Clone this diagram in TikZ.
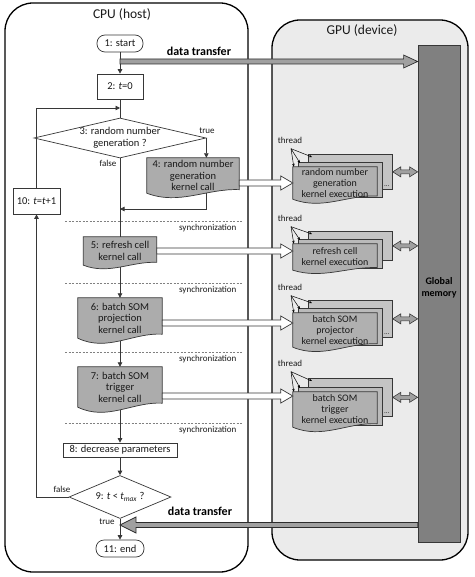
\documentclass[tikz,border=0pt]{standalone}
\usepackage{fontspec}
\setmainfont{Carlito}
\usetikzlibrary{shapes.geometric,arrows.meta,calc}
\pgfdeclarelayer{bg}
\pgfsetlayers{bg,main}
\newcommand\fsz[2]{\fontsize{#1}{#2}\selectfont}
\definecolor{edge}{RGB}{55,55,55}
\definecolor{kfill}{RGB}{172,172,172}
\definecolor{gpubg}{RGB}{235,235,235}
\definecolor{memfill}{RGB}{128,128,128}
\definecolor{gfront}{RGB}{176,176,176}
\definecolor{gmid}{RGB}{186,186,186}
\definecolor{gback}{RGB}{196,196,196}
\definecolor{dtfill}{RGB}{160,160,160}
\definecolor{txt}{RGB}{25,25,25}
% document shape behind a named node
\newcommand\docshape[2]{%
 \begin{pgfonlayer}{bg}
 \path[#2] let \p1=(#1.north west), \p2=(#1.south east) in
 (\x1,\y1) -- (\x2,\y1) -- (\x2,{\y2+0.1*(\y1-\y2)})
 .. controls ({\x1+0.65*(\x2-\x1)},{\y2+0.14*(\y1-\y2)}) and ({\x1+0.35*(\x2-\x1)},{\y2-0.35*(\y1-\y2)}) .. (\x1,\y2) -- cycle;
 \end{pgfonlayer}}
% fat horizontal arrow: style, from, to, body half, head half, head length (signed)
\newcommand\fatarrow[6]{%
 \path[#1] let \p1=#2, \p2=#3 in
 (\x1,{\y1+#4}) -- ({\x2-(#6)},{\y1+#4}) -- ({\x2-(#6)},{\y1+#5}) -- (\x2,\y1)
 -- ({\x2-(#6)},{\y1-#5}) -- ({\x2-(#6)},{\y1-#4}) -- (\x1,{\y1-#4}) -- cycle;}
% double headed fat arrow, left to right
\newcommand\dblarrow[6]{%
 \path[#1] let \p1=#2, \p2=#3 in
 (\x1,\y1) -- ({\x1+#6},{\y1+#5}) -- ({\x1+#6},{\y1+#4}) -- ({\x2-#6},{\y1+#4})
 -- ({\x2-#6},{\y1+#5}) -- (\x2,\y1) -- ({\x2-#6},{\y1-#5}) -- ({\x2-#6},{\y1-#4})
 -- ({\x1+#6},{\y1-#4}) -- ({\x1+#6},{\y1-#5}) -- cycle;}
\tikzset{
 every node/.style={text=txt},
 frame/.style={draw=black, line width=1.3pt, rounded corners=28pt},
 flowline/.style={draw=edge, line width=0.8pt},
 flow/.style={flowline, -{Triangle[length=4.5pt,width=4.5pt]}},
 procbox/.style={draw=edge, line width=0.7pt, fill=white, font=\fsz{10.5}{11.5}, inner sep=1pt, align=center},
 termbox/.style={procbox, rounded corners=8pt},
 decbox/.style={draw=edge, line width=0.7pt, fill=white, diamond, inner ysep=0pt, align=center, font=\fsz{10.5}{11.5}},
 kdoc/.style={inner sep=0pt, align=center, font=\fsz{10.5}{11.5}},
 kfillst/.style={draw=edge, line width=0.7pt, fill=kfill},
 gfrontst/.style={draw=edge, line width=0.7pt, fill=gfront},
 gdoc/.style={inner sep=0pt, align=center, font=\fsz{10}{11}, minimum width=84pt},
 gbox/.style={draw=edge, line width=0.7pt, inner sep=0pt, minimum width=84pt, anchor=north west},
 sync/.style={draw=gray, line width=0.7pt, dash pattern=on 2pt off 1.5pt},
 small/.style={font=\fsz{9}{10}},
 synclab/.style={small, anchor=east},
 whitearr/.style={draw=edge, line width=0.7pt, fill=white},
 dtarr/.style={draw=edge!80!black, line width=0.7pt, fill=dtfill},
 dblarr/.style={draw=edge, line width=0.6pt, fill=dtfill},
 thr/.style={draw=black, line width=0.5pt, -{Stealth[length=3pt,width=2.5pt]}},
 dotlab/.style={font=\fsz{7}{8}},
}
\begin{document}
\begin{tikzpicture}[x=1pt,y=-1pt]
\useasboundingbox (0,0) rectangle (474,577);
\begin{pgfonlayer}{bg}
\draw[frame, fill=white] (5,3) rectangle (248,572);
\draw[frame, fill=gpubg] (272,20) rectangle (468,560);
\end{pgfonlayer}

\node[font=\fsz{13.5}{15}] (cpu) at (122,15) {CPU (host)};
\node[font=\fsz{13.5}{15}] (gpu) at (362,31) {GPU (device)};

% global memory
\node[draw=edge, line width=0.8pt, fill=memfill, minimum width=42pt, minimum height=497pt, inner sep=0pt] (mem) at (439,293.5) {};
\node[font=\bfseries\fsz{10}{12}, text=black, align=center] (memlabel) at (439,288) {Global\\memory};

% CPU flowchart
\node[termbox, minimum width=46pt, minimum height=17pt] (n1) at (120,43.5) {1: start};
\node[procbox, minimum width=46pt, minimum height=25pt] (n2) at (120,86.5) {2: \textit{t}=0};
\node[decbox, inner xsep=-4pt, shape aspect=4.2, minimum width=172pt, minimum height=40pt] (n3) at (120,138) {3: random number\\generation ?};
\node[kdoc, minimum width=92pt, minimum height=35pt] (n4) at (193,175.5) {4: random number\\generation\\kernel call};
\docshape{n4}{kfillst}
\node[kdoc, minimum width=73pt, minimum height=28pt] (n5) at (120,251) {5: refresh cell\\kernel call};
\docshape{n5}{kfillst}
\node[kdoc, minimum width=84pt, minimum height=40pt] (n6) at (120,318) {6: batch SOM\\projection\\kernel call};
\docshape{n6}{kfillst}
\node[kdoc, minimum width=84pt, minimum height=40pt] (n7) at (120,387) {7: batch SOM\\trigger\\kernel call};
\docshape{n7}{kfillst}
\node[procbox, minimum width=114pt, minimum height=14pt] (n8) at (120,450) {8: decrease parameters};
\node[decbox, inner xsep=0pt, shape aspect=2.4, minimum width=102pt, minimum height=43pt] (n9) at (120,497) {9: \textit{t} < \textit{t}\textsubscript{\textit{max}} ?};
\node[procbox, minimum width=47pt, minimum height=26pt] (n10) at (36.5,201) {10: \textit{t}=\textit{t}+1};
\node[termbox, minimum width=48pt, minimum height=17pt] (n11) at (120,548.5) {11: end};

\coordinate (jl) at (120,108);
\coordinate (j4) at (120,209);
\draw[flow] (n1.south) -- (n2.north);
\draw[flowline] (n2.south) -- (n3.north);
\draw[flow] (n10.north) |- (jl);
\draw[flow] (n3.east) -- (n3.east |- n4.north);
\draw[flow] (n3.east |- n4.south) |- (j4);
\draw[flowline] (n3.south) -- (n5.north);
\draw[flow] ([yshift=-1.8pt]n5.south) -- (n6.north);
\draw[flow] ([yshift=-2.6pt]n6.south) -- (n7.north);
\draw[flow] ([yshift=-2.6pt]n7.south) -- (n8.north);
\draw[flow] (n8.south) -- (n9.north);
\draw[flow] (n9.south) -- (n11.north);
\draw[flow] (n9.west) -| (n10.south);

\node[small] (lt1) at (207,131) {true};
\node[small] (lf1) at (108,163) {false};
\node[small] (lf2) at (62,489) {false};
\node[small] (lt2) at (107,522) {true};

% synchronization
\draw[sync] (65,221) -- (243,221);
\draw[sync] (65,283) -- (243,283);
\draw[sync] (65,352) -- (243,352);
\draw[sync] (65,423) -- (243,423);
\node[synclab] (s1) at (240,228) {synchronization};
\node[synclab] (s2) at (240,290) {synchronization};
\node[synclab] (s3) at (240,359) {synchronization};
\node[synclab] (s4) at (240,430) {synchronization};

% GPU stacks
\begin{pgfonlayer}{bg}
\node[gbox, fill=gback, minimum height=35pt] (g1b) at (308,154) {};
\node[gbox, fill=gmid, minimum height=35pt] (g1m) at (298,162) {};
\end{pgfonlayer}
\node[gdoc, minimum height=32pt] (g1) at (335,183) {random number\\generation\\kernel execution};
\docshape{g1}{gfrontst}

\begin{pgfonlayer}{bg}
\node[gbox, fill=gback, minimum height=29pt] (g2b) at (308,231) {};
\node[gbox, fill=gmid, minimum height=29pt] (g2m) at (298,239) {};
\end{pgfonlayer}
\node[gdoc, minimum height=26pt] (g2) at (335,257) {refresh cell\\kernel execution};
\docshape{g2}{gfrontst}

\begin{pgfonlayer}{bg}
\node[gbox, fill=gback, minimum height=37pt] (g3b) at (308,300) {};
\node[gbox, fill=gmid, minimum height=37pt] (g3m) at (298,308) {};
\end{pgfonlayer}
\node[gdoc, minimum height=34pt] (g3) at (335,330) {batch SOM\\projector\\kernel execution};
\docshape{g3}{gfrontst}

\begin{pgfonlayer}{bg}
\node[gbox, fill=gback, minimum height=38pt] (g4b) at (308,378) {};
\node[gbox, fill=gmid, minimum height=38pt] (g4m) at (298,387) {};
\end{pgfonlayer}
\node[gdoc, minimum height=35pt] (g4) at (335,409.5) {batch SOM\\trigger\\kernel execution};
\docshape{g4}{gfrontst}

\node[dotlab] (d1) at ([xshift=-6pt,yshift=4pt]g1b.south east) {...};
\node[dotlab] (d3) at ([xshift=-6pt,yshift=4pt]g3b.south east) {...};
\node[dotlab] (d4) at ([xshift=-6pt,yshift=4pt]g4b.south east) {...};

% threads
\node[small] (t1) at (290,140) {thread};
\node[small] (t2) at (290,218) {thread};
\node[small] (t3) at (290,287) {thread};
\node[small] (t4) at (290,363) {thread};
\foreach \i in {1,2,3,4}{
 \draw[thr] ([xshift=1pt,yshift=-2pt]t\i.south) -- ([xshift=1pt]g\i.north west);
 \draw[thr] ([xshift=1pt,yshift=-2pt]t\i.south) -- ([xshift=2pt,yshift=-1pt]g\i m.north west);
 \draw[thr] ([xshift=1pt,yshift=-2pt]t\i.south) -- ([xshift=4pt,yshift=-3pt]g\i b.north west);
}

% kernel launch arrows
\fatarrow{whitearr}{(n4.east |- g1.west)}{(g1.west)}{3pt}{7pt}{12pt}
\fatarrow{whitearr}{(n5.east)}{(g2.west |- n5.east)}{3pt}{7pt}{12pt}
\fatarrow{whitearr}{([yshift=-5pt]n6.east)}{(g3.west)}{3pt}{7pt}{12pt}
\fatarrow{whitearr}{([yshift=-9pt]n7.east)}{(g4.west)}{3pt}{7pt}{12pt}

% memory access
\dblarrow{dblarr}{(g1b.east)}{(mem.west |- g1b.east)}{2pt}{5pt}{8pt}
\dblarrow{dblarr}{(g2b.east)}{(mem.west |- g2b.east)}{2pt}{5pt}{8pt}
\dblarrow{dblarr}{(g3b.east)}{(mem.west |- g3b.east)}{2pt}{5pt}{8pt}
\dblarrow{dblarr}{(g4b.east)}{(mem.west |- g4b.east)}{2pt}{5pt}{8pt}

% data transfers
\coordinate (dt1) at (120,61.5);
\coordinate (dt2) at (120,525);
\fatarrow{dtarr}{(dt1)}{(mem.west |- dt1)}{2.5pt}{6.5pt}{14pt}
\fatarrow{dtarr}{(mem.west |- dt2)}{(dt2)}{2.5pt}{8pt}{-16pt}
\node[font=\bfseries\fsz{12}{14}, text=black] (dtl1) at (199,51) {data transfer};
\node[font=\bfseries\fsz{12}{14}, text=black] (dtl2) at (200,511) {data transfer};
\end{tikzpicture}
\end{document}
